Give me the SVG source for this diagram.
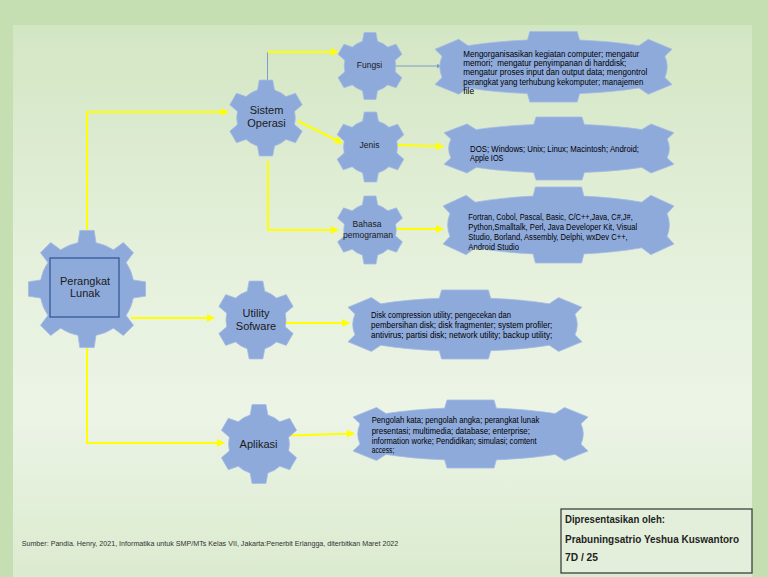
<svg xmlns="http://www.w3.org/2000/svg" xmlns:xlink="http://www.w3.org/1999/xlink" width="768" height="577" viewBox="0 0 768 577">
<defs>
<linearGradient id="pg" x1="0" y1="0" x2="0" y2="1">
<stop offset="0" stop-color="#d3e6c4"/>
<stop offset="0.45" stop-color="#e6f1dd"/>
<stop offset="0.7" stop-color="#ecf4e6"/>
<stop offset="1" stop-color="#dbebcf"/>
</linearGradient>
<path id="g6" vector-effect="non-scaling-stroke" d="M -22.22 -72.68 L -17.36 -98.48 L 17.36 -98.48 L 22.22 -72.68 A 76 76 0 0 1 51.83 -55.59 L 76.60 -64.28 L 93.97 -34.20 L 74.05 -17.10 A 76 76 0 0 1 74.05 17.10 L 93.97 34.20 L 76.60 64.28 L 51.83 55.59 A 76 76 0 0 1 22.22 72.68 L 17.36 98.48 L -17.36 98.48 L -22.22 72.68 A 76 76 0 0 1 -51.83 55.59 L -76.60 64.28 L -93.97 34.20 L -74.05 17.10 A 76 76 0 0 1 -74.05 -17.10 L -93.97 -34.20 L -76.60 -64.28 L -51.83 -55.59 A 76 76 0 0 1 -22.22 -72.68 Z"/>
<path id="g8" vector-effect="non-scaling-stroke" d="M -15.27 -78.53 L -12.19 -99.25 L 12.19 -99.25 L 15.27 -78.53 A 80 80 0 0 1 44.73 -66.32 L 61.57 -78.80 L 78.80 -61.57 L 66.32 -44.73 A 80 80 0 0 1 78.53 -15.27 L 99.25 -12.19 L 99.25 12.19 L 78.53 15.27 A 80 80 0 0 1 66.32 44.73 L 78.80 61.57 L 61.57 78.80 L 44.73 66.32 A 80 80 0 0 1 15.27 78.53 L 12.19 99.25 L -12.19 99.25 L -15.27 78.53 A 80 80 0 0 1 -44.73 66.32 L -61.57 78.80 L -78.80 61.57 L -66.32 44.73 A 80 80 0 0 1 -78.53 15.27 L -99.25 12.19 L -99.25 -12.19 L -78.53 -15.27 A 80 80 0 0 1 -66.32 -44.73 L -78.80 -61.57 L -61.57 -78.80 L -44.73 -66.32 A 80 80 0 0 1 -15.27 -78.53 Z"/>
<path id="bx" vector-effect="non-scaling-stroke" d="M -22 -76 L -20 -100 L 20 -100 L 22 -76 Q 50 -72 72 -60 L 80 -78 L 100 -50 L 94 -30 Q 98 0 94 30 L 100 50 L 80 78 L 72 60 Q 50 72 22 76 L 20 100 L -20 100 L -22 76 Q -50 72 -72 60 L -80 78 L -100 50 L -94 30 Q -98 0 -94 -30 L -100 -50 L -80 -78 L -72 -60 Q -50 -72 -22 -76 Z"/>
<marker id="ay" viewBox="0 0 10 10" refX="9" refY="5" markerWidth="4" markerHeight="4" orient="auto" markerUnits="strokeWidth">
<path d="M0 0 L10 5 L0 10 Z" fill="#ffff00"/>
</marker>
<marker id="ab" viewBox="0 0 10 10" refX="9" refY="5" markerWidth="5" markerHeight="5" orient="auto" markerUnits="strokeWidth">
<path d="M0 0 L10 5 L0 10 Z" fill="#7f9cc4"/>
</marker>
</defs>
<style>
.gear{fill:#8eaadb;stroke:#a5bbe4;stroke-width:0.8}
.lbl{font-family:"Liberation Sans",Arial,sans-serif;fill:#1a1a1a;text-anchor:middle}
.big{font-size:11px}
.sm{font-size:8.5px}
.tx{font-family:"Liberation Sans",Arial,sans-serif;font-size:8.5px;fill:#000}
.yl{fill:none;stroke:#ffff00;stroke-width:2}
.bl{fill:none;stroke:#7f9cc4;stroke-width:1}
.pres{font-family:"Liberation Sans",Arial,sans-serif;font-size:11px;font-weight:bold;fill:#1f1f1f}
</style>
<rect x="0" y="0" width="768" height="577" fill="#c5dfb3"/>
<rect x="13" y="25" width="739" height="552" fill="url(#pg)"/>

<g id="connectors">
<path class="yl" d="M 87 230 V 112 H 228" marker-end="url(#ay)"/>
<path class="yl" d="M 131 318 H 214" marker-end="url(#ay)"/>
<path class="yl" d="M 87 348 V 443 H 224" marker-end="url(#ay)"/>
<path class="bl" d="M 267.5 80 V 52"/>
<path class="yl" d="M 267.5 52 H 338" marker-end="url(#ay)"/>
<path class="yl" d="M 298 121 L 342 143" marker-end="url(#ay)"/>
<path class="yl" d="M 268 161 V 230 H 338" marker-end="url(#ay)"/>
<path class="bl" d="M 396 66 H 441" marker-end="url(#ab)"/>
<path class="yl" d="M 397 145 L 443 146.5" marker-end="url(#ay)"/>
<path class="yl" d="M 397 229 H 443" marker-end="url(#ay)"/>
<path class="yl" d="M 285 323 H 349" marker-end="url(#ay)"/>
<path class="yl" d="M 289 435.5 L 354 433.5" marker-end="url(#ay)"/>
</g>

<g id="perangkat-lunak">
<use xlink:href="#g8" class="gear" transform="translate(87 289) scale(0.59)"/>
<rect x="50" y="258" width="69" height="59" fill="none" stroke="#2f528f" stroke-width="1.2"/>
<text class="lbl big" x="85" y="285">Perangkat</text>
<text class="lbl big" x="85" y="297">Lunak</text>
</g>

<g id="sistem-operasi">
<use xlink:href="#g6" class="gear" transform="translate(266 118) scale(0.385)"/>
<text class="lbl big" x="266.5" y="113.5">Sistem</text>
<text class="lbl big" x="266.5" y="126.5">Operasi</text>
</g>

<g id="fungsi">
<use xlink:href="#g6" class="gear" transform="translate(370 66) scale(0.34)"/>
<text class="lbl sm" x="369.5" y="68">Fungsi</text>
</g>

<g id="jenis">
<use xlink:href="#g6" class="gear" transform="translate(370.5 147) scale(0.355)"/>
<text class="lbl sm" x="369.5" y="148">Jenis</text>
</g>

<g id="bahasa-pemograman">
<use xlink:href="#g6" class="gear" transform="translate(370 230) scale(0.345)"/>
<text class="lbl sm" x="367" y="227">Bahasa</text>
<text class="lbl sm" x="368" y="237.5">pemograman</text>
</g>

<g id="utility-sofware">
<use xlink:href="#g6" class="gear" transform="translate(256 320) scale(0.395)"/>
<text class="lbl big" x="256" y="317">Utility</text>
<text class="lbl big" x="256" y="329.5">Sofware</text>
</g>

<g id="aplikasi">
<use xlink:href="#g6" class="gear" transform="translate(259 444) scale(0.4)"/>
<text class="lbl big" x="258.5" y="448">Aplikasi</text>
</g>

<g id="box-fungsi">
<use xlink:href="#bx" class="gear" transform="translate(553.5 66.8) scale(1.185 0.3525)"/>
<text class="tx" x="463.3" y="56.5" textLength="176" lengthAdjust="spacingAndGlyphs">Mengorganisasikan kegiatan computer; mengatur</text>
<text class="tx" x="463.3" y="65.8" textLength="163" lengthAdjust="spacingAndGlyphs" xml:space="preserve">memori;  mengatur penyimpanan di harddisk;</text>
<text class="tx" x="463.3" y="75.2" textLength="184" lengthAdjust="spacingAndGlyphs">mengatur proses input dan output data; mengontrol</text>
<text class="tx" x="463.3" y="84.8" textLength="180" lengthAdjust="spacingAndGlyphs">perangkat yang terhubung kekomputer; manajemen</text>
<text class="tx" x="463.3" y="94.2">file</text>
</g>

<g id="box-jenis">
<use xlink:href="#bx" class="gear" transform="translate(559 148.5) scale(1.15 0.315)"/>
<text class="tx" x="470" y="151.8" textLength="169" lengthAdjust="spacingAndGlyphs">DOS; Windows; Unix; Linux; Macintosh; Android;</text>
<text class="tx" x="470" y="161.2" textLength="33.5" lengthAdjust="spacingAndGlyphs">Apple IOS</text>
</g>

<g id="box-bahasa">
<use xlink:href="#bx" class="gear" transform="translate(558.5 225) scale(1.155 0.38)"/>
<text class="tx" x="468.3" y="219.8" textLength="164.4" lengthAdjust="spacingAndGlyphs">Fortran, Cobol, Pascal, Basic, C/C++,Java, C#,J#,</text>
<text class="tx" x="468.3" y="229.8" textLength="169" lengthAdjust="spacingAndGlyphs">Python,Smalltalk, Perl, Java Developer Kit, Visual</text>
<text class="tx" x="468.3" y="239.8" textLength="159.4" lengthAdjust="spacingAndGlyphs">Studio, Borland, Assembly, Delphi, wxDev C++,</text>
<text class="tx" x="468.3" y="249.8" textLength="50.7" lengthAdjust="spacingAndGlyphs">Android Studio</text>
</g>

<g id="box-utility">
<use xlink:href="#bx" class="gear" transform="translate(465 324.5) scale(1.17 0.345)"/>
<text class="tx" x="371" y="317.5" textLength="140" lengthAdjust="spacingAndGlyphs">Disk compression utility; pengecekan dan</text>
<text class="tx" x="371" y="327.5" textLength="181.3" lengthAdjust="spacingAndGlyphs">pembersihan disk; disk fragmenter; system profiler;</text>
<text class="tx" x="371" y="337.5" textLength="181.3" lengthAdjust="spacingAndGlyphs">antivirus; partisi disk; network utility; backup utility;</text>
</g>

<g id="box-aplikasi">
<use xlink:href="#bx" class="gear" transform="translate(470.5 434) scale(1.175 0.34)"/>
<text class="tx" x="371.7" y="423.2" textLength="167.6" lengthAdjust="spacingAndGlyphs">Pengolah kata; pengolah angka; perangkat lunak</text>
<text class="tx" x="371.7" y="433.8" textLength="158.3" lengthAdjust="spacingAndGlyphs">presentasi; multimedia; database; enterprise;</text>
<text class="tx" x="371.7" y="443.8" textLength="165" lengthAdjust="spacingAndGlyphs">information worke; Pendidikan; simulasi; comtent</text>
<text class="tx" x="371.7" y="453.2" textLength="22.6" lengthAdjust="spacingAndGlyphs">access;</text>
</g>

<g id="sumber">
<text x="21.7" y="545.5" font-family="'Liberation Sans',Arial,sans-serif" font-size="7px" fill="#333" textLength="376.6" lengthAdjust="spacingAndGlyphs">Sumber: Pandia. Henry, 2021, Informatika untuk SMP/MTs Kelas VII, Jakarta:Penerbit Erlangga, diterbitkan Maret 2022</text>
</g>

<g id="presenter">
<rect x="561" y="509" width="191" height="64" fill="#e3efdb" stroke="#404040" stroke-width="1.3"/>
<text class="pres" x="565" y="523" textLength="100" lengthAdjust="spacingAndGlyphs">Dipresentasikan oleh:</text>
<text class="pres" x="565" y="542.5" textLength="174" lengthAdjust="spacingAndGlyphs">Prabuningsatrio Yeshua Kuswantoro</text>
<text class="pres" x="565" y="561" textLength="33" lengthAdjust="spacingAndGlyphs">7D / 25</text>
</g>
</svg>
